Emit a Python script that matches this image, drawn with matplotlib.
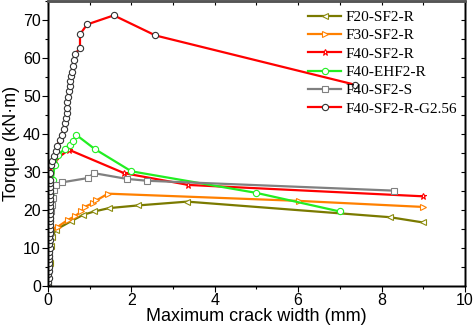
import matplotlib
matplotlib.use("Agg")
import matplotlib.pyplot as plt
from matplotlib.ticker import MultipleLocator

# -----------------------------
# Data
# -----------------------------

f20_x = [0.0, 0.04, 0.07, 0.11, 0.19, 0.55, 0.84, 1.11, 1.47, 2.16, 3.34, 8.2, 9.0]
f20_t = [0.0, 6.0, 10.4, 13.0, 14.8, 17.0, 18.7, 19.6, 20.5, 21.2, 22.2, 18.1, 16.7]

f30_x = [0.0, 0.03, 0.05, 0.08, 0.24, 0.48, 0.64, 0.80, 0.90, 1.08, 1.16, 1.44, 6.01, 9.0]
f30_t = [0.0, 8.0, 14.2, 15.0, 15.6, 17.4, 18.3, 19.6, 20.9, 21.8, 22.5, 24.3, 22.4, 20.8]

f40_x = [0.0, 0.03, 0.06, 0.10, 0.18, 0.50, 1.83, 3.37, 9.0]
f40_t = [0.0, 10.0, 20.0, 28.0, 33.2, 35.9, 29.7, 26.6, 23.6]

ehf_x = [0.0, 0.03, 0.06, 0.10, 0.12, 0.16, 0.25, 0.40, 0.52, 0.60, 0.68, 1.12, 2.0, 5.0, 7.0]
ehf_t = [0.0, 10.0, 20.0, 25.0, 28.0, 31.9, 34.5, 36.1, 37.2, 38.1, 39.8, 36.1, 30.2, 24.5, 19.6]

s_x = [0.0, 0.03, 0.05, 0.06, 0.08, 0.10, 0.12, 0.15, 0.20, 0.35, 0.95, 1.11, 1.89, 2.38, 8.29]
s_t = [0.0, 8.0, 14.0, 17.9, 19.6, 21.4, 23.1, 25.3, 26.6, 27.3, 28.4, 29.7, 28.2, 27.7, 25.1]

g_x = [0.0, 0.01, 0.02, 0.01, 0.02, 0.03, 0.02, 0.03, 0.02, 0.03, 0.04, 0.03,
       0.04, 0.03, 0.04, 0.05, 0.04, 0.05, 0.04, 0.05, 0.06, 0.05, 0.06, 0.05,
       0.06, 0.05, 0.06, 0.05, 0.06, 0.06, 0.08, 0.11, 0.14, 0.20, 0.215, 0.29,
       0.33, 0.39, 0.41, 0.44, 0.45, 0.45, 0.47, 0.49, 0.50, 0.53, 0.53, 0.55,
       0.57, 0.60, 0.63, 0.65, 0.77, 0.77, 0.94, 1.58, 2.58, 7.37]
g_t = [0.0, 1.0, 2.0, 3.0, 4.0, 5.0, 6.0, 7.0, 8.0, 9.0, 10.0, 11.0,
       12.0, 13.0, 14.0, 15.0, 16.0, 17.0, 18.0, 19.0, 20.0, 21.0, 22.0, 23.0,
       24.0, 25.0, 26.0, 27.0, 28.0, 29.7, 31.9, 33.0, 34.1, 35.5, 36.8, 38.5,
       39.8, 41.3, 42.9, 44.2, 45.6, 46.9, 48.4, 49.8, 51.3, 52.6, 53.9, 55.2,
       56.5, 57.9, 59.6, 61.2, 62.6, 66.3, 68.9, 71.3, 66.0, 53.0]

labels = ["F20-SF2-R", "F30-SF2-R", "F40-SF2-R", "F40-EHF2-R", "F40-SF2-S", "F40-SF2-R-G2.56"]

# -----------------------------
# Plot
# -----------------------------

plt.rcParams["font.family"] = "Liberation Sans"

fig = plt.figure(figsize=(4.74, 3.32), dpi=100)
ax = fig.add_axes([0.101, 0.139, 0.880, 0.857])

ms = 4.5
lw = 1.6
ax.plot(f20_x, f20_t, color="#7a7a00", lw=lw, marker="<", ms=ms, mfc="white", mec="#8c8c10", mew=0.8, label=labels[0])
ax.plot(f30_x, f30_t, color="#ff8000", lw=lw, marker=">", ms=ms, mfc="white", mec="#ff8000", mew=0.8, label=labels[1])
ax.plot(f40_x, f40_t, color="#ff0000", lw=lw, marker="*", ms=ms, mfc="white", mec="#ff0000", mew=0.8, label=labels[2])
ax.plot(ehf_x, ehf_t, color="#22ee22", lw=lw, marker="o", ms=ms, mfc="white", mec="#22ee22", mew=0.8, label=labels[3])
ax.plot(s_x, s_t, color="#808080", lw=lw, marker="s", ms=ms, mfc="white", mec="#808080", mew=0.8, label=labels[4])
ax.plot(g_x, g_t, color="#ff0000", lw=lw, marker="o", ms=ms, mfc="white", mec="#333333", mew=0.8, label=labels[5])

ax.set_xlim(0, 10)
ax.set_ylim(0, 75)
ax.xaxis.set_major_locator(MultipleLocator(2))
ax.xaxis.set_minor_locator(MultipleLocator(1))
ax.yaxis.set_major_locator(MultipleLocator(10))
ax.yaxis.set_minor_locator(MultipleLocator(5))
ax.tick_params(which="major", direction="out", length=4, width=0.8, labelsize=11.5, pad=1)
ax.tick_params(which="minor", direction="out", length=2.5, width=0.8)

# зеркальные тики сверху и справа (внутрь)
ax_r = ax.twinx()
ax_r.set_ylim(ax.get_ylim())
ax_r.yaxis.set_major_locator(MultipleLocator(10))
ax_r.yaxis.set_minor_locator(MultipleLocator(5))
ax_r.tick_params(which="both", direction="in", length=3, width=0.8, labelright=False)
ax_t = ax.twiny()
ax_t.set_xlim(ax.get_xlim())
ax_t.xaxis.set_major_locator(MultipleLocator(2))
ax_t.xaxis.set_minor_locator(MultipleLocator(1))
ax_t.tick_params(which="both", direction="in", length=3, width=0.8, labeltop=False)

for a in (ax, ax_r, ax_t):
    for sp in a.spines.values():
        sp.set_linewidth(1.0)
ax_t.spines["top"].set_color("#555555")
ax_t.spines["top"].set_linewidth(2.0)

ax.set_xlabel("Maximum crack width (mm)", fontsize=13, labelpad=0)
ax.set_ylabel("Torque (kN\u00b7m)", fontsize=13, labelpad=2)

ax.legend(loc="upper left", bbox_to_anchor=(0.623, 0.968), frameon=False,
          prop={"family": "Liberation Serif", "size": 11},
          handlelength=2.2, handletextpad=0.3, labelspacing=0.3,
          borderpad=0, borderaxespad=0)

fig.savefig("out.png", dpi=100)
plt.close()
